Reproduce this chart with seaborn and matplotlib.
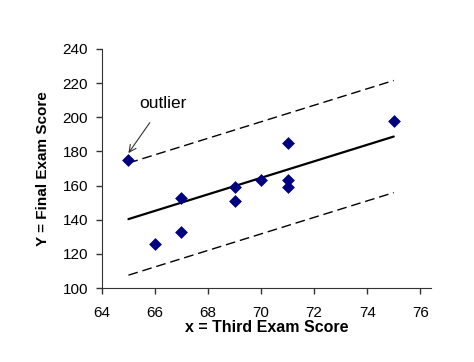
import numpy as np
import pandas as pd
import matplotlib
matplotlib.use("Agg")
import matplotlib.pyplot as plt
import seaborn as sns

# third exam vs final exam scores
third_exam = [65, 67, 71, 71, 66, 75, 67, 70, 71, 69, 69]
final_exam = [175, 133, 185, 163, 126, 198, 153, 163, 159, 151, 159]

# fitted line and the two dashed bands (endpoints)
line_x = [65, 75]
fit_y = [140.4, 188.7]
upper_y = [173.2, 221.5]
lower_y = [107.6, 155.9]

x_ticks = [64, 66, 68, 70, 72, 74, 76]
y_ticks = [100, 120, 140, 160, 180, 200, 220, 240]

sns.set_style("ticks")
plt.rcParams["font.family"] = ["Liberation Sans", "DejaVu Sans"]
plt.rcParams["text.color"] = "black"
plt.rcParams["axes.labelcolor"] = "black"
plt.rcParams["xtick.labelcolor"] = "black"
plt.rcParams["ytick.labelcolor"] = "black"

df = pd.DataFrame({"x": third_exam, "y": final_exam})
lines = pd.DataFrame({"x": line_x, "fit": fit_y, "up": upper_y, "low": lower_y})

fig = plt.figure(figsize=(4.74, 3.62), dpi=100)
ax = fig.add_axes([0.215, 0.204, 0.694, 0.661])

sns.lineplot(data=lines, x="x", y="fit", color="black", linewidth=1.6, ax=ax)
sns.lineplot(data=lines, x="x", y="up", color="black", linewidth=1.0,
             linestyle=(0, (7, 3.5)), ax=ax)
sns.lineplot(data=lines, x="x", y="low", color="black", linewidth=1.0,
             linestyle=(0, (7, 3.5)), ax=ax)
sns.scatterplot(data=df, x="x", y="y", marker="D", color="#000080", s=36,
                edgecolor="#000080", linewidth=0.5, ax=ax, zorder=5)

ax.annotate("outlier", xy=(65.0, 179), xytext=(66.3, 207.8),
            ha="center", va="center", fontsize=12.5, color="black",
            arrowprops=dict(arrowstyle="->", color="#333333", lw=0.8,
                            shrinkA=7, shrinkB=0))

ax.set_xlim(64, 76.4)
ax.set_ylim(100, 240)
ax.set_xticks(x_ticks)
ax.set_yticks(y_ticks)
ax.tick_params(labelsize=11, length=4, width=1, color="#333333",
               labelcolor="black")
ax.tick_params(axis="x", pad=9)
ax.tick_params(axis="y", pad=6)
for s in ["left", "bottom"]:
    ax.spines[s].set_color("#333333")
sns.despine(ax=ax)

ax.set_xlabel("x = Third Exam Score", fontsize=11.5, fontweight="bold",
              labelpad=0, color="black")
ax.set_ylabel("Y = Final Exam Score", fontsize=11, fontweight="bold",
              labelpad=9, color="black")

fig.savefig("out.png", dpi=100)
